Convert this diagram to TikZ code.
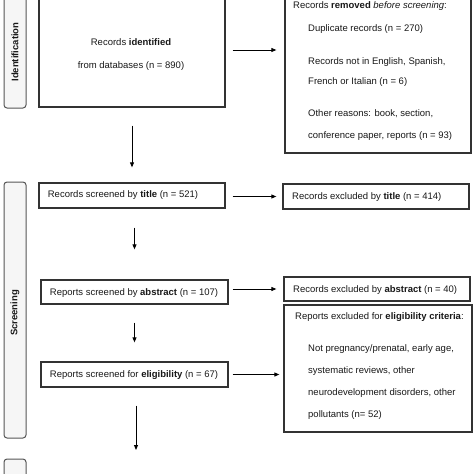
\documentclass[tikz,border=0pt]{standalone}
\usepackage{fontspec}
\setmainfont{Liberation Sans}
\usetikzlibrary{arrows.meta,calc}
\definecolor{boxline}{HTML}{333333}
\definecolor{labfill}{HTML}{F6F6F6}
\definecolor{labline}{HTML}{555555}
\begin{document}
\begin{tikzpicture}[x=1pt,y=-1pt,
  every node/.style={font=\fontsize{9.5}{11}\selectfont, text=black!90},
  mainbox/.style={draw=boxline, line width=1.3pt, fill=white, inner sep=0pt},
  phase/.style={draw=labline, line width=1pt, fill=labfill, rounded corners=3pt, inner sep=0pt},
  phasetext/.style={font=\fontsize{9.5}{11}\selectfont\bfseries, rotate=90},
  txt/.style={inner sep=0pt, anchor=base west},
  ctxt/.style={inner sep=0pt, anchor=base},
  arr/.style={-{Triangle[length=5pt,width=4pt]}, line width=0.9pt, black}]
\useasboundingbox (0,0) rectangle (474,474);
\clip (0,0) rectangle (474,474);
% phase labels
\node[phase, minimum width=22pt, minimum height=120pt] (idlab) at (15,48) {};
\node[phasetext] (idtext) at (15,52) {Identification};
\node[phase, minimum width=22pt, minimum height=256pt] (sclab) at (15,310) {};
\node[phasetext] (sctext) at (15,313) {Screening};
\node[phase, minimum width=22pt, minimum height=60pt] (inlab) at (15,489) {};
% identification
\node[mainbox, minimum width=186pt, minimum height=114pt] (idbox) at (132,50) {};
\node[ctxt] (id1) at (131,45) {Records \textbf{identified}};
\node[ctxt] (id2) at (131,68) {from databases (n = 890)};
\node[mainbox, minimum width=186pt, minimum height=161pt] (rembox) at (378,72.5) {};
\node[txt] (r0) at (293,8) {Records \textbf{removed} \textit{before screening}:};
\node[txt] (r1) at (308,31) {Duplicate records (n = 270)};
\node[txt] (r2) at (308,64) {Records not in English, Spanish,};
\node[txt] (r3) at (308,84) {French or Italian (n = 6)};
\node[txt] (r4) at (308,116) {Other reasons: book, section,};
\node[txt] (r5) at (308,138) {conference paper, reports (n = 93)};
% screening
\node[mainbox, minimum width=186pt, minimum height=25pt] (tbox) at (132,195.5) {};
\node[ctxt] (t1) at (123,197.5) {Records screened by \textbf{title} (n = 521)};
\node[mainbox, minimum width=186pt, minimum height=25pt] (rtbox) at (376,196.5) {};
\node[txt] (rt1) at (292,199.5) {Records excluded by \textbf{title} (n = 414)};
\node[mainbox, minimum width=187pt, minimum height=24pt] (abox) at (134.5,292) {};
\node[ctxt] (a1) at (134,295) {Reports screened by \textbf{abstract} (n = 107)};
\node[mainbox, minimum width=186pt, minimum height=24pt] (rabox) at (377,289) {};
\node[txt] (ra1) at (293,292.5) {Records excluded by \textbf{abstract} (n = 40)};
\node[mainbox, minimum width=187pt, minimum height=25pt] (ebox) at (134.5,374.5) {};
\node[ctxt] (e1) at (134,377.5) {Reports screened for \textbf{eligibility} (n = 67)};
\node[mainbox, minimum width=188pt, minimum height=127pt] (elbox) at (378,368.5) {};
\node[txt] (el0) at (295,319.5) {Reports excluded for \textbf{eligibility criteria}:};
\node[txt] (el1) at (308,351.5) {Not pregnancy/prenatal, early age,};
\node[txt] (el2) at (308,373.5) {systematic reviews, other};
\node[txt] (el3) at (308,395.5) {neurodevelopment disorders, other};
\node[txt] (el4) at (308,417.5) {pollutants (n= 52)};
\coordinate (incl) at (136,462);
% connectors
\draw[arr, shorten <=7pt, shorten >=8pt] (idbox.east) -- (idbox.east -| rembox.west);
\draw[arr, shorten <=18pt, shorten >=15pt] (idbox.south) -- (tbox.north);
\draw[arr, shorten <=7pt, shorten >=6pt] (tbox.east |- rtbox.west) -- (rtbox.west);
\draw[arr, shorten <=19pt, shorten >=30pt] (abox.north |- tbox.south) -- (abox.north);
\draw[arr, shorten <=4pt, shorten >=7pt] (abox.east |- rabox.west) -- (rabox.west);
\draw[arr, shorten <=18pt, shorten >=19pt] (abox.south) -- (ebox.north);
\draw[arr, shorten <=4pt, shorten >=4pt] (ebox.east) -- (ebox.east -| elbox.west);
\draw[arr, shorten <=18pt, shorten >=12pt] (ebox.south -| incl) -- (incl);
\end{tikzpicture}
\end{document}
